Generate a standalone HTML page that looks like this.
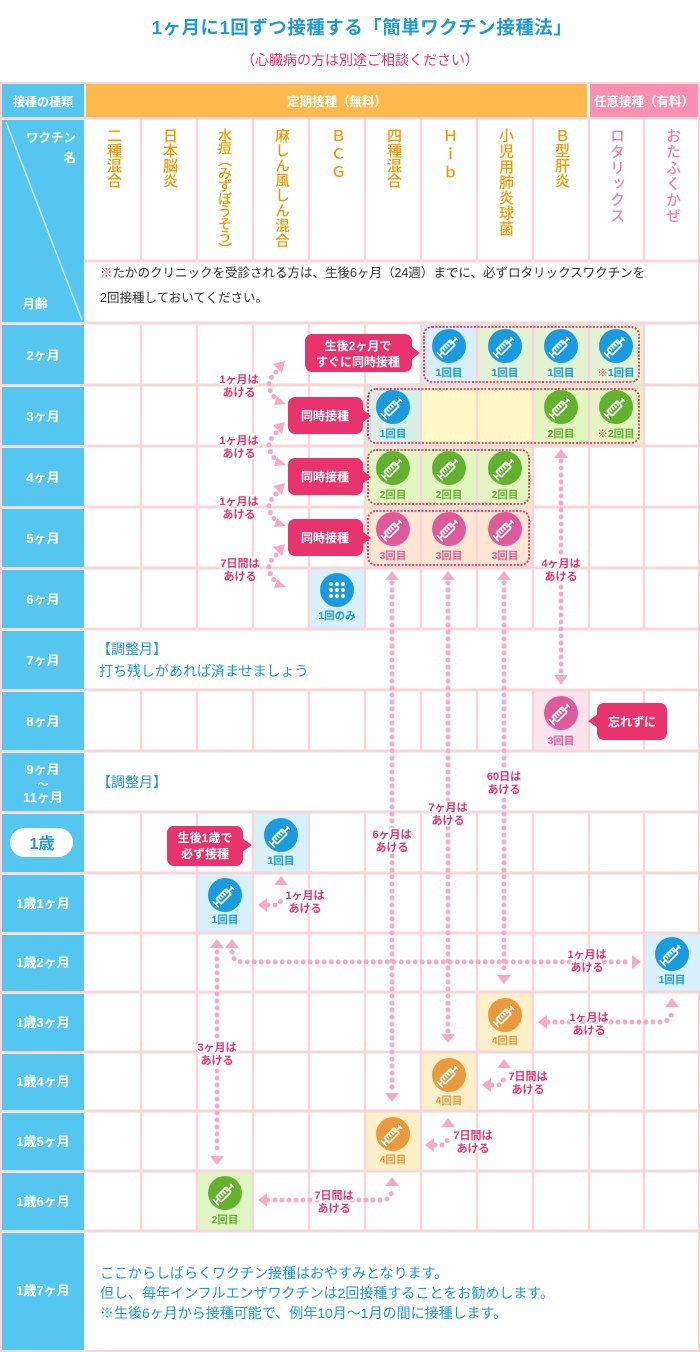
<!DOCTYPE html>
<html><head><meta charset="utf-8"><style>
*{margin:0;padding:0}
body{width:700px;height:1352px;background:#fff;position:relative;overflow:hidden;font-family:"Liberation Sans","Noto Sans CJK JP",sans-serif}
svg{position:absolute;left:0;top:0}
.vn{position:absolute;top:128px;writing-mode:vertical-rl;text-orientation:upright;font-size:15px;line-height:16px;letter-spacing:0;color:#f39800;font-family:"Noto Sans CJK JP",sans-serif;font-weight:500}
.pk{color:#f47fa8}
</style></head><body>
<svg width="700" height="1352" viewBox="0 0 700 1352" font-family="Liberation Sans, Noto Sans CJK JP, sans-serif">
<defs>
<g id="syr">
<circle r="17"/>
<g stroke="#fff" stroke-width="1.6" fill="none" stroke-linecap="round" transform="rotate(-45)">
<rect x="-9" y="-3.5" width="14" height="7" rx="1"/>
<line x1="5" y1="0" x2="10" y2="0"/><line x1="10" y1="-2" x2="10" y2="2"/>
<line x1="-9" y1="0" x2="-13" y2="0"/><line x1="-13" y1="-3.5" x2="-13" y2="3.5"/>
<line x1="-6" y1="-3.5" x2="-6" y2="0"/><line x1="-3" y1="-3.5" x2="-3" y2="0"/><line x1="0" y1="-3.5" x2="0" y2="0"/><line x1="3" y1="-3.5" x2="3" y2="0"/>
</g></g>
</defs>
<text x="362" y="34" text-anchor="middle" font-size="18.5" font-weight="bold" fill="#1e9ad6" letter-spacing="0.5">1ヶ月に1回ずつ接種する「簡単ワクチン接種法」</text>
<text x="360" y="65" text-anchor="middle" font-size="14" fill="#e8336f">（心臓病の方は別途ご相談ください）</text>
<rect x="0" y="82" width="700" height="1270" fill="#f7d6d9"/>
<rect x="2" y="84" width="696" height="1266" fill="#fff"/>
<g>
<rect x="421" y="323" width="56" height="62" fill="#d7eff8"/>
<rect x="477" y="323" width="167" height="62" fill="#e3f2d3"/>
<rect x="365" y="385" width="56" height="61" fill="#d9efe6"/>
<rect x="421" y="385" width="112" height="61" fill="#fff8c6"/>
<rect x="533" y="385" width="111" height="61" fill="#e3f5c0"/>
<rect x="365" y="446" width="168" height="61" fill="#e3f5c0"/>
<rect x="365" y="507" width="168" height="61" fill="#fde6d2"/>
<rect x="309" y="568" width="56" height="61" fill="#d7f0fb"/>
<rect x="533" y="690" width="56" height="61" fill="#fde3ee"/>
<rect x="253" y="812" width="56" height="61" fill="#d7f0fb"/>
<rect x="197" y="873" width="56" height="60" fill="#d7f0fb"/>
<rect x="644" y="933" width="56" height="59" fill="#d7f0fb"/>
<rect x="477" y="992" width="56" height="60" fill="#fdefc8"/>
<rect x="421" y="1052" width="56" height="59" fill="#fdefc8"/>
<rect x="365" y="1111" width="56" height="60" fill="#fdefc8"/>
<rect x="197" y="1171" width="56" height="60" fill="#dff5c4"/>
</g>
<g stroke="#f7d6d9" stroke-width="2.5">
<path d="M141 118V261M197 118V261M253 118V261M309 118V261M365 118V261M421 118V261M477 118V261M533 118V261M589 118V261M644 118V261"/>
<path d="M141 323V629M197 323V629M253 323V629M309 323V629M365 323V629M421 323V629M477 323V629M533 323V629M589 323V629M644 323V629"/>
<path d="M141 690V751M197 690V751M253 690V751M309 690V751M365 690V751M421 690V751M477 690V751M533 690V751M589 690V751M644 690V751"/>
<path d="M141 812V1231M197 812V1231M253 812V1231M309 812V1231M365 812V1231M421 812V1231M477 812V1231M533 812V1231M589 812V1231M644 812V1231"/>
</g>
<g stroke="#f7d6d9" stroke-width="3">
<path d="M0 118H700M85 261H700M0 323H700M0 385H700M0 446H700M0 507H700M0 568H700M0 629H700M0 690H700M0 751H700M0 812H700M0 873H700M0 933H700M0 992H700M0 1052H700M0 1111H700M0 1171H700M0 1231H700"/>
</g>
<rect x="2" y="84" width="82" height="33" fill="#55c6f0"/>
<rect x="86" y="84" width="501" height="33" fill="#fdb94e"/>
<rect x="590" y="84" width="108" height="33" fill="#f98fb1"/>
<text x="43" y="106" text-anchor="middle" font-size="12" font-weight="bold" fill="#fff">接種の種類</text>
<text x="337" y="106" text-anchor="middle" font-size="12.5" font-weight="bold" fill="#fff">定期接種（無料）</text>
<text x="644" y="106" text-anchor="middle" font-size="12.5" font-weight="bold" fill="#fff">任意接種（有料）</text>
<g fill="#55c6f0">
<rect x="2" y="120" width="82" height="202"/>
<rect x="2" y="325" width="82" height="59"/><rect x="2" y="387" width="82" height="58"/><rect x="2" y="448" width="82" height="58"/><rect x="2" y="509" width="82" height="58"/><rect x="2" y="570" width="82" height="58"/><rect x="2" y="631" width="82" height="58"/><rect x="2" y="692" width="82" height="58"/><rect x="2" y="753" width="82" height="58"/><rect x="2" y="814" width="82" height="58"/><rect x="2" y="875" width="82" height="57"/><rect x="2" y="935" width="82" height="56"/><rect x="2" y="994" width="82" height="57"/><rect x="2" y="1054" width="82" height="56"/><rect x="2" y="1113" width="82" height="57"/><rect x="2" y="1173" width="82" height="57"/><rect x="2" y="1233" width="82" height="117"/>
</g>
<line x1="6" y1="122" x2="82" y2="320" stroke="#c9ecfa" stroke-width="1.5"/>
<g fill="#fff" font-weight="bold" font-size="12.5">
<text x="76" y="142" text-anchor="end">ワクチン</text>
<text x="76" y="162" text-anchor="end">名</text>
<text x="35" y="308" text-anchor="middle">月齢</text>
</g>
<g fill="#fff" font-weight="bold" font-size="13" text-anchor="middle">
<text x="43" y="360">2ヶ月</text><text x="43" y="421">3ヶ月</text><text x="43" y="482">4ヶ月</text><text x="43" y="543">5ヶ月</text><text x="43" y="604">6ヶ月</text><text x="43" y="665">7ヶ月</text><text x="43" y="726">8ヶ月</text>
<text x="43" y="774">9ヶ月</text><text x="43" y="788" font-size="11">～</text><text x="43" y="802">11ヶ月</text>
<text x="43" y="908">1歳1ヶ月</text><text x="43" y="967">1歳2ヶ月</text><text x="43" y="1027">1歳3ヶ月</text><text x="43" y="1086">1歳4ヶ月</text><text x="43" y="1146">1歳5ヶ月</text><text x="43" y="1206">1歳6ヶ月</text><text x="43" y="1295">1歳7ヶ月</text>
</g>
<rect x="10" y="828" width="63" height="29" rx="14.5" fill="#fff"/>
<text x="42" y="849" text-anchor="middle" font-size="16" font-weight="bold" fill="#1e9ad6">1歳</text>
<text x="100" y="277" font-size="12.5" fill="#333"><tspan fill="#e8336f">※</tspan>たかのクリニックを受診される方は、生後6ヶ月（24週）までに、必ずロタリックスワクチンを</text>
<text x="100" y="302" font-size="12.5" fill="#333">2回接種しておいてください。</text>
<g fill="#1e9ad6" font-size="14">
<text x="97" y="654">【調整月】</text>
<text x="99" y="676">打ち残しがあれば済ませましょう</text>
<text x="97" y="787">【調整月】</text>
<text x="100" y="1278">ここからしばらくワクチン接種はおやすみとなります。</text>
<text x="100" y="1298">但し、毎年インフルエンザワクチンは2回接種することをお勧めします。</text>
<text x="100" y="1318">※生後6ヶ月から接種可能で、例年10月～1月の間に接種します。</text>
</g>
<g stroke="#f7a8c6" stroke-width="5" stroke-linecap="round" stroke-dasharray="0 7" fill="none">
<path d="M276 372 Q266 382 270 390 Q272 396 278 400"/>
<path d="M276 433 Q266 443 270 451 Q272 457 278 461"/>
<path d="M276 494 Q266 504 270 512 Q272 518 278 522"/>
<path d="M276 555 Q266 565 270 573 Q272 579 278 583"/>
<path d="M392 583V1090"/>
<path d="M448 583V1033"/>
<path d="M504 583V974"/>
<path d="M561 461V674"/>
<path d="M217 952V1153"/>
<path d="M232 952 Q232 962 244 962 H630"/>
<path d="M268 905 H276 Q281 905 281 896"/>
<path d="M548 1022 H660 Q672 1022 672 1010"/>
<path d="M492 1085 H498 Q504 1085 504 1074"/>
<path d="M435 1145 H441 Q448 1145 448 1134"/>
<path d="M268 1200 H382 Q392 1200 392 1188"/>
</g>
<g fill="#f7a8c6">
<polygon points="273,364 285,361 282,373"/><polygon points="277,396 286,404 274,405"/>
<polygon points="273,425 285,422 282,434"/><polygon points="277,457 286,465 274,466"/>
<polygon points="273,486 285,483 282,495"/><polygon points="277,518 286,526 274,527"/>
<polygon points="273,547 285,544 282,556"/><polygon points="277,579 286,587 274,588"/>
<polygon points="385,580 399,580 392,571"/><polygon points="441,580 455,580 448,571"/><polygon points="497,580 511,580 504,571"/>
<polygon points="554,458 568,458 561,449"/><polygon points="554,675 568,675 561,685"/>
<polygon points="385,1093 399,1093 392,1102"/><polygon points="441,1034 455,1034 448,1043"/><polygon points="497,975 511,975 504,984"/>
<polygon points="210,948 224,948 217,939"/><polygon points="225,948 239,948 232,939"/><polygon points="210,1156 224,1156 217,1165"/>
<polygon points="632,955 632,969 641,962"/>
<polygon points="274,885 288,885 281,876"/><polygon points="267,898 267,912 258,905"/>
<polygon points="547,1015 547,1029 538,1022"/><polygon points="665,1007 679,1007 672,998"/>
<polygon points="497,1068 511,1068 504,1059"/><polygon points="491,1078 491,1092 482,1085"/>
<polygon points="441,1127 455,1127 448,1118"/><polygon points="434,1138 434,1152 425,1145"/>
<polygon points="385,1186 399,1186 392,1177"/><polygon points="267,1193 267,1207 258,1200"/>
</g>
<g fill="#e8336f" font-size="11" font-weight="bold" text-anchor="middle" stroke="#fff" stroke-width="3" paint-order="stroke">
<text x="239" y="383">1ヶ月は</text><text x="239" y="396">あける</text>
<text x="239" y="444">1ヶ月は</text><text x="239" y="457">あける</text>
<text x="239" y="505">1ヶ月は</text><text x="239" y="518">あける</text>
<text x="240" y="567">7日間は</text><text x="240" y="580">あける</text>
<text x="561" y="567">4ヶ月は</text><text x="561" y="580">あける</text>
<text x="504" y="780">60日は</text><text x="504" y="793">あける</text>
<text x="448" y="811">7ヶ月は</text><text x="448" y="824">あける</text>
<text x="392" y="838">6ヶ月は</text><text x="392" y="851">あける</text>
<text x="305" y="899">1ヶ月は</text><text x="305" y="912">あける</text>
<text x="587" y="958">1ヶ月は</text><text x="587" y="971">あける</text>
<text x="589" y="1021">1ヶ月は</text><text x="589" y="1034">あける</text>
<text x="528" y="1080">7日間は</text><text x="528" y="1093">あける</text>
<text x="473" y="1139">7日間は</text><text x="473" y="1152">あける</text>
<text x="217" y="1051">3ヶ月は</text><text x="217" y="1064">あける</text>
<text x="334" y="1199">7日間は</text><text x="334" y="1212">あける</text>
</g>
<g fill="none" stroke="#e8336f" stroke-width="1.8" stroke-dasharray="2 1.5">
<rect x="424" y="327" width="215" height="55" rx="8"/>
<rect x="368" y="389" width="271" height="54" rx="8"/>
<rect x="368" y="450" width="161" height="54" rx="8"/>
<rect x="368" y="511" width="161" height="54" rx="8"/>
</g>
<g fill="#1a9be0">
<use href="#syr" x="449" y="346"/><use href="#syr" x="505" y="346"/><use href="#syr" x="561" y="346"/><use href="#syr" x="616" y="346"/>
<use href="#syr" x="393" y="407"/>
<use href="#syr" x="281" y="835"/><use href="#syr" x="225" y="895"/><use href="#syr" x="672" y="954"/>
</g>
<g fill="#62b22f">
<use href="#syr" x="561" y="407"/><use href="#syr" x="616" y="407"/>
<use href="#syr" x="393" y="468"/><use href="#syr" x="449" y="468"/><use href="#syr" x="505" y="468"/>
<use href="#syr" x="225" y="1193"/>
</g>
<g fill="#df5a9b">
<use href="#syr" x="393" y="529"/><use href="#syr" x="449" y="529"/><use href="#syr" x="505" y="529"/>
<use href="#syr" x="561" y="713"/>
</g>
<g fill="#e89a3c">
<use href="#syr" x="505" y="1015"/><use href="#syr" x="449" y="1075"/><use href="#syr" x="393" y="1134"/>
</g>
<circle cx="337" cy="590" r="17" fill="#1a9be0"/>
<g fill="#fff"><circle cx="331" cy="584" r="2"/><circle cx="337" cy="584" r="2"/><circle cx="343" cy="584" r="2"/><circle cx="331" cy="590" r="2"/><circle cx="337" cy="590" r="2"/><circle cx="343" cy="590" r="2"/><circle cx="331" cy="596" r="2"/><circle cx="337" cy="596" r="2"/><circle cx="343" cy="596" r="2"/></g>
<g font-size="10.5" font-weight="bold" text-anchor="middle">
<g fill="#1a9be0"><text x="449" y="376">1回目</text><text x="505" y="376">1回目</text><text x="561" y="376">1回目</text><text x="616" y="376"><tspan fill="#e8336f">※</tspan>1回目</text>
<text x="393" y="437">1回目</text><text x="337" y="619">1回のみ</text><text x="281" y="864">1回目</text><text x="225" y="923">1回目</text><text x="672" y="983">1回目</text></g>
<g fill="#62b22f"><text x="561" y="437">2回目</text><text x="616" y="437"><tspan fill="#e8336f">※</tspan>2回目</text>
<text x="393" y="498">2回目</text><text x="449" y="498">2回目</text><text x="505" y="498">2回目</text><text x="225" y="1223">2回目</text></g>
<g fill="#df5a9b"><text x="393" y="559">3回目</text><text x="449" y="559">3回目</text><text x="505" y="559">3回目</text><text x="561" y="744">3回目</text></g>
<g fill="#e89a3c"><text x="505" y="1044">4回目</text><text x="449" y="1104">4回目</text><text x="393" y="1163">4回目</text></g>
</g>
<g fill="#e8336f">
<rect x="305" y="334" width="107" height="38" rx="7"/><polygon points="411,346 420,353 411,360"/>
<rect x="288" y="397" width="75" height="37" rx="7"/><polygon points="362,409 371,416 362,423"/>
<rect x="288" y="458" width="75" height="37" rx="7"/><polygon points="362,470 371,477 362,484"/>
<rect x="288" y="519" width="75" height="37" rx="7"/><polygon points="362,531 371,538 362,545"/>
<rect x="597" y="703" width="70" height="37" rx="7"/><polygon points="598,714 588,721 598,728"/>
<rect x="167" y="826" width="76" height="40" rx="7"/><polygon points="242,838 252,845 242,852"/>
</g>
<g fill="#fff" font-size="12" font-weight="bold" text-anchor="middle">
<text x="358" y="350">生後2ヶ月で</text><text x="358" y="366">すぐに同時接種</text>
<text x="325" y="420">同時接種</text><text x="325" y="481">同時接種</text><text x="325" y="542">同時接種</text>
<text x="632" y="726">忘れずに</text>
<text x="205" y="842">生後1歳で</text><text x="205" y="858">必ず接種</text>
</g>
</svg>
<div class="vn" style="left:106px">二種混合</div>
<div class="vn" style="left:162px">日本脳炎</div>
<div class="vn" style="left:218px;font-size:14px;line-height:14px;letter-spacing:-1.3px;text-orientation:mixed">水痘（みずぼうそう）</div>
<div class="vn" style="left:274px;font-size:14.5px;letter-spacing:0.5px">麻しん風しん混合</div>
<div class="vn" style="left:330px;letter-spacing:3px">ＢＣＧ</div>
<div class="vn" style="left:386px">四種混合</div>
<div class="vn" style="left:442px;letter-spacing:3px">Ｈｉｂ</div>
<div class="vn" style="left:498px;letter-spacing:0.5px">小児用肺炎球菌</div>
<div class="vn" style="left:554px">Ｂ型肝炎</div>
<div class="vn pk" style="left:609px;letter-spacing:1px">ロタリックス</div>
<div class="vn pk" style="left:665px;letter-spacing:1px">おたふくかぜ</div>
</body></html>
